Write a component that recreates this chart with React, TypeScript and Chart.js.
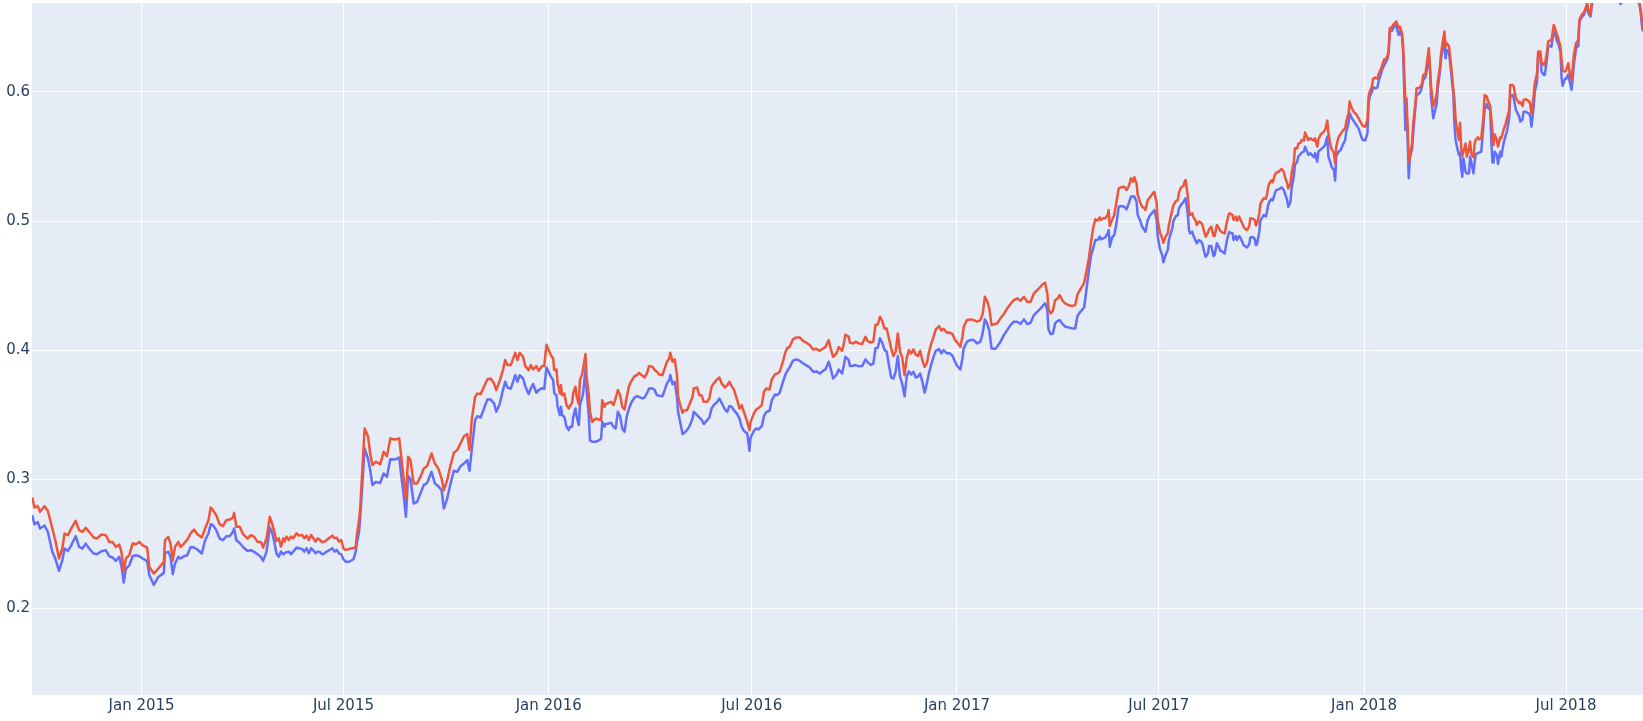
import React, { useEffect, useRef } from "react";
import { Chart, registerables } from "chart.js";

Chart.register(...registerables);

// ---------- DATA ----------
const dates: string[] = [
  "2014-09-25","2014-09-27","2014-09-30",
  "2014-10-02","2014-10-06","2014-10-09","2014-10-13","2014-10-16","2014-10-19","2014-10-22","2014-10-24","2014-10-27","2014-10-30",
  "2014-11-03","2014-11-06","2014-11-09","2014-11-12","2014-11-15","2014-11-19","2014-11-22","2014-11-26","2014-11-30",
  "2014-12-03","2014-12-06","2014-12-09","2014-12-12","2014-12-14","2014-12-16","2014-12-18","2014-12-21","2014-12-24","2014-12-27","2014-12-30",
  "2015-01-02","2015-01-06","2015-01-08","2015-01-12","2015-01-16","2015-01-21","2015-01-22","2015-01-25","2015-01-27","2015-01-29","2015-01-31",
  "2015-02-03","2015-02-05","2015-02-08","2015-02-11","2015-02-14","2015-02-17","2015-02-20","2015-02-24","2015-02-27",
  "2015-03-02","2015-03-04","2015-03-06","2015-03-09","2015-03-12","2015-03-15","2015-03-18","2015-03-21","2015-03-24","2015-03-25","2015-03-27","2015-03-30",
  "2015-04-02","2015-04-06","2015-04-09","2015-04-12","2015-04-15","2015-04-18","2015-04-20","2015-04-23","2015-04-26","2015-04-28","2015-04-30",
  "2015-05-02","2015-05-04","2015-05-06","2015-05-08","2015-05-09","2015-05-11","2015-05-13","2015-05-15","2015-05-17","2015-05-20","2015-05-22","2015-05-25","2015-05-27","2015-05-29","2015-05-31",
  "2015-06-02","2015-06-04","2015-06-06","2015-06-08","2015-06-10","2015-06-12","2015-06-14","2015-06-16","2015-06-20","2015-06-21","2015-06-23","2015-06-25","2015-06-27","2015-06-29",
  "2015-07-01","2015-07-03","2015-07-06","2015-07-08","2015-07-10","2015-07-12","2015-07-13","2015-07-15","2015-07-16","2015-07-20","2015-07-23","2015-07-25","2015-07-27","2015-07-30",
  "2015-08-03","2015-08-06","2015-08-09","2015-08-12","2015-08-16","2015-08-20","2015-08-22","2015-08-24","2015-08-26","2015-08-28","2015-08-30",
  "2015-09-02","2015-09-05","2015-09-08","2015-09-11","2015-09-14","2015-09-18","2015-09-21","2015-09-24","2015-09-27","2015-09-29",
  "2015-10-02","2015-10-05","2015-10-08","2015-10-11","2015-10-14","2015-10-17","2015-10-20","2015-10-22","2015-10-24","2015-10-27","2015-10-29",
  "2015-11-01","2015-11-04","2015-11-07","2015-11-10","2015-11-13","2015-11-15","2015-11-18","2015-11-21","2015-11-23","2015-11-25","2015-11-28",
  "2015-12-02","2015-12-04","2015-12-06","2015-12-09","2015-12-11","2015-12-14","2015-12-16","2015-12-18","2015-12-21","2015-12-23","2015-12-26","2015-12-28","2015-12-30",
  "2016-01-03","2016-01-05","2016-01-06","2016-01-08","2016-01-09","2016-01-11","2016-01-12","2016-01-13","2016-01-15","2016-01-17","2016-01-19","2016-01-20","2016-01-22","2016-01-23","2016-01-25","2016-01-26","2016-01-28","2016-01-29","2016-01-31",
  "2016-02-01","2016-02-03","2016-02-04","2016-02-06","2016-02-07","2016-02-09","2016-02-12","2016-02-15","2016-02-17","2016-02-18","2016-02-20","2016-02-21","2016-02-24","2016-02-26","2016-02-28",
  "2016-03-01","2016-03-03","2016-03-05","2016-03-07","2016-03-09","2016-03-11","2016-03-13","2016-03-15","2016-03-18","2016-03-20","2016-03-22","2016-03-25","2016-03-27","2016-03-29","2016-03-31",
  "2016-04-03","2016-04-05","2016-04-07","2016-04-09","2016-04-12","2016-04-14","2016-04-16","2016-04-18","2016-04-19","2016-04-21","2016-04-23","2016-04-25","2016-04-26","2016-04-28","2016-04-30",
  "2016-05-01","2016-05-04","2016-05-06","2016-05-09","2016-05-10","2016-05-13","2016-05-15","2016-05-17","2016-05-19","2016-05-22","2016-05-24","2016-05-26","2016-05-28","2016-05-31",
  "2016-06-02","2016-06-04","2016-06-07","2016-06-09","2016-06-11","2016-06-13","2016-06-15","2016-06-18","2016-06-20","2016-06-22","2016-06-24","2016-06-27","2016-06-29","2016-06-30",
  "2016-07-03","2016-07-05","2016-07-07","2016-07-10","2016-07-12","2016-07-14","2016-07-17","2016-07-19","2016-07-22","2016-07-24","2016-07-26","2016-07-29","2016-07-31",
  "2016-08-02","2016-08-04","2016-08-07","2016-08-10","2016-08-13","2016-08-16","2016-08-19","2016-08-22","2016-08-25","2016-08-28","2016-08-31",
  "2016-09-03","2016-09-05","2016-09-08","2016-09-10","2016-09-12","2016-09-15","2016-09-17","2016-09-20","2016-09-21","2016-09-23","2016-09-26","2016-09-27","2016-09-30",
  "2016-10-02","2016-10-05","2016-10-08","2016-10-11","2016-10-13","2016-10-16","2016-10-18","2016-10-20","2016-10-22","2016-10-24","2016-10-26","2016-10-28","2016-10-30",
  "2016-11-01","2016-11-03","2016-11-05","2016-11-07","2016-11-09","2016-11-11","2016-11-13","2016-11-15","2016-11-17","2016-11-19","2016-11-21","2016-11-23","2016-11-25","2016-11-27","2016-11-29",
  "2016-12-01","2016-12-03","2016-12-05","2016-12-07","2016-12-09","2016-12-11","2016-12-13","2016-12-16","2016-12-18","2016-12-20","2016-12-23","2016-12-25","2016-12-28","2016-12-30",
  "2017-01-01","2017-01-04","2017-01-06","2017-01-07","2017-01-10","2017-01-13","2017-01-16","2017-01-19","2017-01-22","2017-01-24","2017-01-26","2017-01-28","2017-01-30",
  "2017-02-01","2017-02-04","2017-02-06","2017-02-09","2017-02-12","2017-02-15","2017-02-18","2017-02-21","2017-02-24","2017-02-27",
  "2017-03-02","2017-03-05","2017-03-08","2017-03-11","2017-03-14","2017-03-17","2017-03-19","2017-03-21","2017-03-23","2017-03-24","2017-03-26","2017-03-28","2017-03-30",
  "2017-04-01","2017-04-03","2017-04-06","2017-04-08","2017-04-11","2017-04-14","2017-04-17","2017-04-19","2017-04-21","2017-04-25","2017-04-29",
  "2017-05-01","2017-05-03","2017-05-05","2017-05-07","2017-05-09","2017-05-10","2017-05-12","2017-05-14","2017-05-16","2017-05-17","2017-05-18","2017-05-20","2017-05-22","2017-05-24","2017-05-26","2017-05-28","2017-05-31",
  "2017-06-02","2017-06-04","2017-06-06","2017-06-08","2017-06-09","2017-06-11","2017-06-12","2017-06-14","2017-06-16","2017-06-18","2017-06-19","2017-06-21","2017-06-23","2017-06-26","2017-06-27","2017-06-29","2017-06-30",
  "2017-07-02","2017-07-04","2017-07-05","2017-07-07","2017-07-09","2017-07-10","2017-07-13","2017-07-14","2017-07-16","2017-07-18","2017-07-19","2017-07-21","2017-07-23","2017-07-24","2017-07-25","2017-07-27","2017-07-28","2017-07-29","2017-07-31",
  "2017-08-01","2017-08-03","2017-08-04","2017-08-06","2017-08-08","2017-08-09","2017-08-11","2017-08-12","2017-08-14","2017-08-15","2017-08-17","2017-08-19","2017-08-20","2017-08-22","2017-08-24","2017-08-25","2017-08-27","2017-08-29","2017-08-31",
  "2017-09-02","2017-09-03","2017-09-05","2017-09-06","2017-09-08","2017-09-09","2017-09-11","2017-09-12","2017-09-14","2017-09-15","2017-09-17","2017-09-18","2017-09-20","2017-09-21","2017-09-23","2017-09-25","2017-09-26","2017-09-27","2017-09-29","2017-09-30",
  "2017-10-02","2017-10-03","2017-10-05","2017-10-06","2017-10-07","2017-10-08","2017-10-10","2017-10-11","2017-10-13","2017-10-14","2017-10-16","2017-10-18","2017-10-19","2017-10-21","2017-10-22","2017-10-24","2017-10-25","2017-10-27","2017-10-28","2017-10-30","2017-10-31",
  "2017-11-02","2017-11-03","2017-11-05","2017-11-06","2017-11-08","2017-11-09","2017-11-11","2017-11-12","2017-11-14","2017-11-15","2017-11-17","2017-11-18","2017-11-20","2017-11-21","2017-11-23","2017-11-26","2017-11-27","2017-11-29","2017-11-30",
  "2017-12-02","2017-12-03","2017-12-05","2017-12-06","2017-12-07","2017-12-09","2017-12-11","2017-12-13","2017-12-15","2017-12-16","2017-12-18","2017-12-19","2017-12-21","2017-12-23","2017-12-25","2017-12-27","2017-12-30","2017-12-31",
  "2018-01-02","2018-01-04","2018-01-05","2018-01-06","2018-01-08","2018-01-09","2018-01-11","2018-01-13","2018-01-14","2018-01-16","2018-01-17","2018-01-19","2018-01-20","2018-01-22","2018-01-23","2018-01-24","2018-01-26","2018-01-27","2018-01-29","2018-01-30",
  "2018-02-01","2018-02-02","2018-02-04","2018-02-05","2018-02-07","2018-02-08","2018-02-09","2018-02-10","2018-02-11","2018-02-13","2018-02-14","2018-02-16","2018-02-17","2018-02-19","2018-02-21","2018-02-22","2018-02-23","2018-02-25","2018-02-26","2018-02-28",
  "2018-03-01","2018-03-02","2018-03-04","2018-03-05","2018-03-07","2018-03-08","2018-03-10","2018-03-11","2018-03-13","2018-03-14","2018-03-15","2018-03-16","2018-03-18","2018-03-19","2018-03-21","2018-03-22","2018-03-23","2018-03-24","2018-03-26","2018-03-27","2018-03-28","2018-03-29","2018-03-30","2018-03-31",
  "2018-04-02","2018-04-03","2018-04-05","2018-04-06","2018-04-07","2018-04-09","2018-04-10","2018-04-11","2018-04-13","2018-04-14","2018-04-16","2018-04-18","2018-04-19","2018-04-21","2018-04-22","2018-04-24","2018-04-25","2018-04-26","2018-04-27","2018-04-28","2018-04-30",
  "2018-05-01","2018-05-03","2018-05-04","2018-05-06","2018-05-08","2018-05-09","2018-05-11","2018-05-12","2018-05-14","2018-05-15","2018-05-17","2018-05-18","2018-05-20","2018-05-21","2018-05-23","2018-05-24","2018-05-26","2018-05-27","2018-05-29","2018-05-30","2018-05-31",
  "2018-06-02","2018-06-03","2018-06-05","2018-06-06","2018-06-08","2018-06-09","2018-06-11","2018-06-12","2018-06-14","2018-06-15","2018-06-17","2018-06-18","2018-06-20","2018-06-21","2018-06-23","2018-06-24","2018-06-26","2018-06-27","2018-06-28","2018-06-30",
  "2018-07-01","2018-07-03","2018-07-04","2018-07-06","2018-07-07","2018-07-08","2018-07-10","2018-07-12","2018-07-13","2018-07-15","2018-07-17","2018-07-18","2018-07-20","2018-07-21","2018-07-23","2018-07-24","2018-07-27",
  "2018-08-01","2018-08-07","2018-08-13","2018-08-19","2018-08-24",
  "2018-09-01","2018-09-05","2018-09-06","2018-09-07","2018-09-08",
];

// first trace (blue)
const seriesBlue: number[] = [
  .2721,.2651,.2667,
  .2618,.2641,.2592,.2437,.2377,.2289,.2372,.2463,.2444,.2488,
  .2558,.2475,.2463,.2501,.2463,.2424,.2419,.2442,.2450,
  .2403,.2393,.2367,.2398,.2326,.2199,.2307,.2333,.2403,.2411,.2403,
  .2385,.2367,.2256,.2181,.2243,.2274,.2429,.2437,.2398,.2264,.2346,
  .2398,.2385,.2403,.2411,.2475,.2470,.2455,.2424,.2527,
  .2579,.2651,.2643,.2605,.2540,.2527,.2558,.2558,.2592,.2618,.2527,.2506,
  .2475,.2444,.2450,.2437,.2419,.2398,.2367,.2437,.2625,.2590,.2516,
  .2423,.2400,.2439,.2418,.2426,.2434,.2439,.2418,.2439,.2470,.2465,.2459,.2439,.2465,.2426,
  .2465,.2447,.2426,.2439,.2434,.2418,.2426,.2439,.2459,.2465,.2439,.2452,.2426,.2418,
  .2380,.2360,.2360,.2370,.2380,.2439,.2503,.2594,.2697,.3238,.3160,.3070,.2954,.2979,
  .2971,.3044,.3018,.3155,.3152,.3168,.3013,.2876,.2708,.3024,.3005,
  .2811,.2824,.2889,.2954,.2971,.3057,.2966,.2946,.2915,.2773,
  .2850,.2966,.3065,.3057,.3101,.3121,.3147,.3065,.3225,.3457,.3488,
  .3478,.3548,.3618,.3618,.3587,.3522,.3581,.3690,.3755,.3711,.3700,
  .3806,.3755,.3806,.3780,.3721,.3659,.3703,.3736,.3669,.3690,.3705,.3700,.3866,
  .3793,.3767,.3664,.3651,.3561,.3496,.3561,.3496,.3483,.3406,.3380,.3406,.3406,.3483,.3548,.3488,.3419,.3574,.3633,
  .3677,.3858,.3690,.3483,.3300,.3290,.3290,.3300,.3315,.3444,.3406,.3427,.3432,.3437,.3406,
  .3393,.3522,.3488,.3393,.3367,.3488,.3548,.3592,.3633,.3643,.3638,.3625,.3633,.3664,.3703,
  .3703,.3690,.3651,.3646,.3643,.3690,.3742,.3767,.3806,.3736,.3754,.3638,.3522,.3437,.3349,
  .3354,.3380,.3406,.3470,.3522,.3496,.3478,.3462,.3427,.3457,.3478,.3548,.3574,.3599,
  .3625,.3592,.3540,.3522,.3566,.3561,.3535,.3504,.3470,.3406,.3374,.3354,.3220,.3323,
  .3374,.3393,.3385,.3411,.3488,.3519,.3530,.3612,.3656,.3651,.3669,.3754,.3806,
  .3840,.3866,.3918,.3928,.3918,.3897,.3882,.3866,.3832,.3835,.3819,
  .3840,.3848,.3910,.3850,.3780,.3809,.3850,.3819,.3858,.3948,.3922,.3876,.3879,
  .3884,.3874,.3876,.3928,.3905,.3884,.3897,.4015,.4018,.4091,.4057,.4003,.3987,
  .3884,.3788,.3780,.3832,.3954,.3793,.3736,.3642,.3798,.3835,.3811,.3832,.3788,.3793,.3819,
  .3755,.3670,.3742,.3827,.3892,.3948,.3995,.4008,.3974,.4000,.3974,.3977,.3956,.3915,
  .3879,.3850,.3941,.4013,.4065,.4078,.4078,.4052,.4065,.4129,.4238,.4207,.4150,
  .4013,.4008,.4026,.4065,.4116,.4155,.4194,.4220,.4220,.4202,
  .4238,.4202,.4212,.4271,.4297,.4323,.4344,.4362,.4310,.4160,.4124,.4129,.4207,
  .4225,.4233,.4199,.4181,.4176,.4168,.4168,.4264,.4290,.4330,.4600,
  .4723,.4788,.4853,.4853,.4879,.4858,.4866,.4873,.4904,.4930,.4801,.4871,.4891,.4982,.5111,.5116,.5111,
  .5090,.5137,.5189,.5189,.5189,.5150,.5046,.5008,.4956,.4930,.4917,.5008,.5044,.5072,.5085,.5008,.4879,
  .4780,.4736,.4680,.4736,.4775,.4853,.4943,.5000,.5034,.5046,.5098,.5127,.5147,.5163,.5176,.5046,.4930,.4904,.4917,
  .4886,.4848,.4827,.4853,.4840,.4822,.4749,.4723,.4749,.4806,.4806,.4729,.4736,.4827,.4796,.4770,.4762,.4749,.4853,
  .4915,.4910,.4904,.4853,.4884,.4853,.4884,.4871,.4835,.4812,.4801,.4796,.4819,.4873,.4876,.4861,.4814,.4822,.4917,.5003,
  .5034,.5046,.5036,.5077,.5124,.5150,.5171,.5160,.5214,.5238,.5245,.5253,.5261,.5240,.5214,.5163,.5111,.5150,.5253,.5349,.5434,
  .5460,.5499,.5519,.5530,.5537,.5576,.5537,.5512,.5525,.5512,.5494,.5525,.5460,.5537,.5553,.5576,.5589,.5654,.5499,
  .5447,.5416,.5395,.5313,.5499,.5537,.5550,.5592,.5628,.5693,.5757,.5835,.5796,.5770,.5744,.5718,.5641,.5628,
  .5625,.5680,.5912,.5964,.6002,.6036,.6028,.6036,.6085,.6137,.6171,.6207,.6222,.6258,.6300,.6468,.6475,.6494,.6519,.6506,
  .6442,.6468,.6429,.6300,.5705,.5860,.5628,.5331,.5486,.5560,.5680,.5886,.5977,.5984,.6010,.6047,.6093,.6116,.6158,.6274,
  .6180,.5964,.5796,.5835,.5906,.6028,.6158,.6261,.6351,.6403,.6261,.6326,.6305,.6235,.6067,.5977,.5744,.5628,.5545,.5512,.5530,.5408,.5343,.5486,
  .5380,.5369,.5369,.5499,.5460,.5369,.5447,.5519,.5525,.5530,.5537,.5744,.5860,.5906,.5878,.5860,.5628,.5453,.5453,.5537,.5512,
  .5442,.5537,.5499,.5602,.5667,.5693,.5796,.5964,.5977,.5959,.5860,.5845,.5809,.5770,.5788,.5847,.5847,.5840,.5832,.5809,.5731,
  .5886,.6002,.6080,.6274,.6287,.6158,.6132,.6132,.6261,.6351,.6357,.6351,.6494,.6455,.6390,.6377,.6312,.6111,.6047,.6100,
  .6100,.6137,.6093,.6015,.6106,.6209,.6339,.6357,.6545,.6579,.6597,.6623,.6674,.6610,.6584,.6661,.683,
  .692,.688,.680,.668,.683,
  .678,.6670,.6610,.6519,.6468,
];

// second trace (red)
const seriesRed: number[] = [
  .2858,.2780,.2791,
  .2747,.2791,.2755,.2618,.2514,.2385,.2463,.2579,.2566,.2618,
  .2677,.2605,.2592,.2623,.2592,.2548,.2540,.2571,.2566,
  .2514,.2514,.2475,.2494,.2437,.2284,.2385,.2411,.2501,.2496,.2514,
  .2488,.2470,.2320,.2269,.2307,.2359,.2527,.2553,.2501,.2372,.2475,
  .2514,.2475,.2501,.2532,.2579,.2610,.2574,.2548,.2618,
  .2682,.2780,.2760,.2721,.2651,.2636,.2682,.2687,.2703,.2739,.2631,.2631,
  .2574,.2540,.2566,.2553,.2514,.2514,.2470,.2540,.2708,.2658,.2594,
  .2521,.2542,.2478,.2542,.2516,.2555,.2529,.2555,.2542,.2581,.2563,.2568,.2542,.2563,.2529,
  .2568,.2542,.2516,.2542,.2529,.2511,.2516,.2529,.2555,.2563,.2542,.2547,.2516,.2529,
  .2465,.2452,.2459,.2465,.2465,.2478,.2568,.2684,.2775,.3393,.3333,.3199,.3109,.3134,
  .3116,.3212,.3178,.3315,.3308,.3315,.3160,.3005,.2850,.3173,.3152,
  .2966,.2966,.3018,.3083,.3101,.3199,.3121,.3083,.3005,.2915,
  .2992,.3109,.3204,.3225,.3277,.3333,.3349,.3225,.3457,.3638,.3664,
  .3659,.3716,.3773,.3780,.3742,.3690,.3762,.3845,.3923,.3884,.3884,
  .3979,.3923,.3979,.3948,.3876,.3845,.3884,.3850,.3876,.3840,.3876,.3876,.4042,
  .3961,.3935,.3845,.3850,.3742,.3664,.3729,.3651,.3664,.3574,.3548,.3566,.3592,.3669,.3716,.3643,.3581,.3767,.3814,
  .3866,.3969,.3793,.3651,.3522,.3444,.3470,.3462,.3457,.3612,.3561,.3581,.3592,.3599,.3574,
  .3625,.3690,.3651,.3561,.3540,.3638,.3721,.3759,.3798,.3806,.3824,.3801,.3788,.3819,.3876,
  .3871,.3845,.3832,.3811,.3806,.3858,.3910,.3935,.3979,.3910,.3928,.3806,.3638,.3574,.3514,
  .3530,.3535,.3574,.3638,.3703,.3711,.3651,.3651,.3599,.3599,.3625,.3716,.3742,.3773,
  .3788,.3742,.3711,.3729,.3754,.3721,.3695,.3612,.3548,.3574,.3522,.3444,.3380,.3444,
  .3509,.3540,.3550,.3574,.3677,.3703,.3695,.3773,.3814,.3819,.3832,.3910,.3979,
  .4018,.4026,.4083,.4098,.4098,.4072,.4057,.4039,.4005,.4010,.3995,
  .4013,.4023,.4078,.4005,.3948,.3974,.4023,.3995,.4026,.4119,.4103,.4057,.4052,
  .4065,.4052,.4047,.4103,.4070,.4057,.4065,.4196,.4199,.4258,.4227,.4168,.4168,
  .4091,.4013,.3954,.3987,.4129,.3987,.3940,.3806,.3940,.4000,.3974,.4005,.3966,.3954,.3995,
  .3922,.3871,.3897,.3987,.4052,.4103,.4160,.4186,.4152,.4165,.4134,.4137,.4124,.4083,
  .4060,.4026,.4103,.4181,.4233,.4238,.4233,.4220,.4233,.4279,.4413,.4382,.4323,
  .4194,.4202,.4207,.4246,.4279,.4323,.4357,.4388,.4401,.4382,
  .4413,.4375,.4375,.4439,.4465,.4491,.4512,.4522,.4439,.4315,.4284,.4305,.4388,
  .4396,.4426,.4380,.4362,.4349,.4341,.4349,.4431,.4460,.4520,.4698,
  .4827,.4943,.5013,.5003,.5028,.5008,.5021,.5021,.5046,.5085,.4961,.5008,.5046,.5150,.5253,.5261,.5266,
  .5240,.5271,.5331,.5305,.5339,.5292,.5202,.5150,.5111,.5098,.5085,.5163,.5183,.5220,.5225,.5137,.5003,
  .4910,.4866,.4832,.4879,.4904,.4969,.5085,.5121,.5152,.5163,.5220,.5261,.5271,.5305,.5318,.5189,.5080,.5046,.5059,
  .5028,.5003,.4969,.4995,.4985,.4969,.4904,.4879,.4910,.4935,.4956,.4884,.4884,.4969,.4941,.4925,.4910,.4904,.4995,
  .5059,.5059,.5046,.5008,.5034,.5003,.5034,.5013,.4977,.4953,.4935,.4930,.4961,.5021,.5018,.5008,.4966,.4977,.5059,.5132,
  .5163,.5176,.5173,.5209,.5261,.5292,.5315,.5300,.5357,.5372,.5380,.5395,.5403,.5382,.5344,.5292,.5253,.5287,.5370,.5460,.5563,
  .5563,.5597,.5607,.5628,.5623,.5685,.5649,.5628,.5641,.5633,.5623,.5641,.5576,.5633,.5670,.5693,.5705,.5778,.5680,
  .5581,.5556,.5525,.5447,.5576,.5649,.5675,.5700,.5718,.5770,.5835,.5925,.5873,.5842,.5827,.5796,.5749,.5736,
  .5731,.5783,.5964,.6002,.6041,.6101,.6111,.6103,.6139,.6176,.6202,.6253,.6248,.6282,.6326,.6494,.6501,.6519,.6538,.6545,
  .6494,.6506,.6455,.6351,.5938,.5951,.5731,.5460,.5499,.5602,.5757,.5912,.6028,.6028,.6047,.6072,.6132,.6139,.6209,.6339,
  .6196,.6041,.5891,.5912,.5977,.6080,.6196,.6300,.6416,.6468,.6351,.6377,.6357,.6287,.6119,.6015,.5938,.5783,.5680,.5628,.5762,.5563,.5504,.5537,
  .5600,.5499,.5563,.5615,.5525,.5494,.5597,.5628,.5649,.5633,.5641,.5809,.5977,.5964,.5933,.5891,.5796,.5693,.5589,.5670,.5628,
  .5576,.5649,.5641,.5705,.5757,.5791,.5860,.6054,.6054,.6047,.5951,.5941,.5912,.5922,.5891,.5938,.5943,.5938,.5925,.5899,.5835,
  .5977,.6067,.6145,.6313,.6313,.6235,.6209,.6209,.6313,.6390,.6403,.6403,.6519,.6494,.6442,.6416,.6351,.6248,.6165,.6158,
  .6165,.6222,.6165,.6093,.6183,.6287,.6377,.6403,.6558,.6597,.6615,.6636,.6687,.6636,.6605,.6687,.685,
  .695,.690,.682,.672,.685,
  .680,.6687,.6636,.6558,.6481,
];

const xTickDates: string[] = ["2015-01-01","2015-07-01","2016-01-01","2016-07-01","2017-01-01","2017-07-01","2018-01-01","2018-07-01"];
const xTickLabels: string[] = ["Jan 2015","Jul 2015","Jan 2016","Jul 2016","Jan 2017","Jul 2017","Jan 2018","Jul 2018"];
const yTickValues: number[] = [0.2, 0.3, 0.4, 0.5, 0.6];
const yTickLabels: string[] = ["0.2", "0.3", "0.4", "0.5", "0.6"];

const xRangeStart = "2014-09-25";
const xRangeEnd = "2018-09-08";
const yRange: number[] = [0.1328, 0.6689];

// ---------- helpers ----------
const DAY_MS = 86400000;
function toDay(s: string): number {
  const [y, m, d] = s.split("-").map(Number);
  return Date.UTC(y, m - 1, d) / DAY_MS;
}

const FONT = { family: "Verdana, 'DejaVu Sans', sans-serif", size: 15 };
const TICK_COLOR = "#2a3f5f";

const plotBgPlugin = {
  id: "plotBg",
  beforeDraw(chart: any) {
    const { ctx, chartArea: a } = chart;
    if (!a) return;
    ctx.save();
    ctx.fillStyle = "#E5ECF6";
    ctx.fillRect(a.left, a.top, a.right - a.left, a.bottom - a.top);
    ctx.restore();
  },
};

export default function App() {
  const canvasRef = useRef<HTMLCanvasElement | null>(null);

  useEffect(() => {
    if (!canvasRef.current) return;
    const n = Math.min(dates.length, seriesBlue.length, seriesRed.length);
    const xs = dates.slice(0, n).map(toDay);
    const bluePts = xs.map((x, i) => ({ x, y: seriesBlue[i] }));
    const redPts = xs.map((x, i) => ({ x, y: seriesRed[i] }));

    const chart = new Chart(canvasRef.current, {
      type: "line",
      data: {
        datasets: [
          {
            data: bluePts,
            borderColor: "#636EFA",
            borderWidth: 2.5,
            pointRadius: 0,
            tension: 0,
            borderJoinStyle: "round",
            order: 2,
          },
          {
            data: redPts,
            borderColor: "#EF553B",
            borderWidth: 2.5,
            pointRadius: 0,
            tension: 0,
            borderJoinStyle: "round",
            order: 1,
          },
        ],
      },
      options: {
        animation: false,
        responsive: true,
        maintainAspectRatio: false,
        layout: { padding: { top: 3, left: 0, right: 0, bottom: 0 } },
        plugins: { legend: { display: false }, tooltip: { enabled: false } },
        events: [],
        scales: {
          x: {
            type: "linear",
            min: toDay(xRangeStart) - 0.2,
            max: toDay(xRangeEnd),
            afterBuildTicks: (scale: any) => {
              scale.ticks = xTickDates.map((d) => ({ value: toDay(d) }));
            },
            afterFit: (scale: any) => {
              scale.height = 26;
              scale.paddingLeft = 0;
              scale.paddingRight = 0;
            },
            ticks: {
              autoSkip: false,
              maxRotation: 0,
              minRotation: 0,
              padding: 2,
              color: TICK_COLOR,
              font: FONT,
              callback: (_v: any, i: number) => xTickLabels[i],
            },
            grid: { color: "#ffffff", lineWidth: 1, drawTicks: false },
            border: { display: false },
          },
          y: {
            type: "linear",
            min: yRange[0],
            max: yRange[1],
            afterBuildTicks: (scale: any) => {
              scale.ticks = yTickValues.map((v) => ({ value: v }));
            },
            afterFit: (scale: any) => {
              scale.width = 32;
              scale.paddingTop = 0;
              scale.paddingBottom = 0;
            },
            ticks: {
              padding: 2,
              color: TICK_COLOR,
              font: FONT,
              callback: (_v: any, i: number) => yTickLabels[i],
            },
            grid: { color: "#ffffff", lineWidth: 1, drawTicks: false },
            border: { display: false },
          },
        },
      },
      plugins: [plotBgPlugin],
    } as any);

    return () => chart.destroy();
  }, []);

  return (
    <div
      style={{
        position: "fixed",
        left: 0,
        top: 0,
        width: 1643,
        height: 721,
        background: "#ffffff",
      }}
    >
      <canvas ref={canvasRef} />
    </div>
  );
}
